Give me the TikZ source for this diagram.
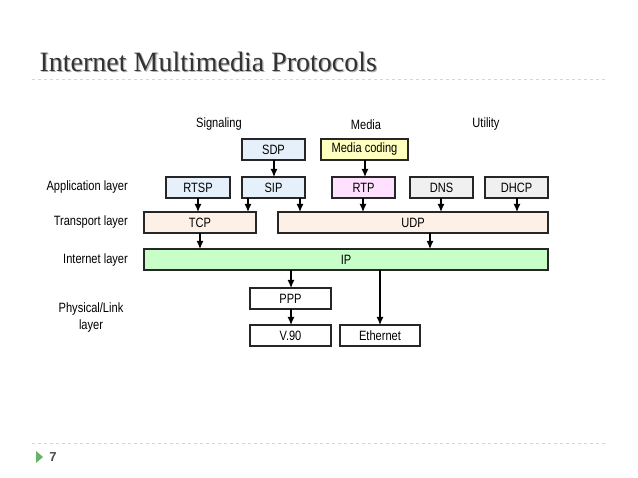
\documentclass[tikz,border=0pt]{standalone}
\usepackage{fontspec}
\setmainfont{Liberation Sans}
\newfontfamily\titlefont{Liberation Serif}
\usetikzlibrary{arrows.meta}
\definecolor{cblue}{HTML}{E6F0FA}
\definecolor{cyel}{HTML}{FFFFC0}
\definecolor{cpink}{HTML}{FFE0FF}
\definecolor{cgrey}{HTML}{F0F0F0}
\definecolor{cpeach}{HTML}{FDF0E6}
\definecolor{cgreen}{HTML}{C8FFC8}
\definecolor{cline}{HTML}{C8E0C8}
\begin{document}
\begin{tikzpicture}[x=1pt,y=-1pt,
  box/.style={draw=black!85,line width=1.3pt},
  lab/.style={inner sep=0pt,font=\fontsize{13.5}{15}\selectfont\addfontfeatures{FakeStretch=0.82}},
  arr/.style={-{Latex[length=8pt,width=7pt]},line width=1.3pt}]
\useasboundingbox (0,0) rectangle (638,478);
\fill[white] (0,0) rectangle (638,478);
\node[anchor=west,font=\titlefont\fontsize{28}{30}\selectfont,text=black!30] at (37.2,63.2) {Internet Multimedia Protocols};
\node[anchor=west,font=\titlefont\fontsize{28}{30}\selectfont,text=black!80] (title) at (36,62) {Internet Multimedia Protocols};
\draw[cline,dashed] (32,79) -- (605,79);
\draw[cline,dashed] (32,443) -- (605,443);
\fill[green!50!black!60] (36,451) -- (43,457) -- (36,463) -- cycle;
\node[font=\bfseries\fontsize{13}{14}\selectfont,text=black!70] (pg) at (53,457) {7};
% labels
\node[lab] (sig) at (219,124) {Signaling};
\node[lab] (med) at (366,125) {Media};
\node[lab] (uti) at (486,124) {Utility};
\node[lab,anchor=east] (al) at (128,187) {Application layer};
\node[lab,anchor=east] (tl) at (128,222) {Transport layer};
\node[lab,anchor=east] (il) at (128,260) {Internet layer};
\node[lab,align=center] (pl) at (91,318) {Physical/Link\\[2pt]layer};
% boxes
\draw[box,fill=cblue] (242,139) rectangle (305,160) node[midway,lab] (sdp) {SDP};
\draw[box,fill=cyel] (321,139) rectangle (408,160) node[midway,lab] (mc) {Media coding};
\draw[box,fill=cblue] (166,177) rectangle (230,198) node[midway,lab] (rtsp) {RTSP};
\draw[box,fill=cblue] (242,177) rectangle (305,198) node[midway,lab] (sip) {SIP};
\draw[box,fill=cpink] (332,177) rectangle (395,198) node[midway,lab] (rtp) {RTP};
\draw[box,fill=cgrey] (410,177) rectangle (473,198) node[midway,lab] (dns) {DNS};
\draw[box,fill=cgrey] (485,177) rectangle (548,198) node[midway,lab] (dhcp) {DHCP};
\draw[box,fill=cpeach] (144,212) rectangle (256,233) node[midway,lab] (tcp) {TCP};
\draw[box,fill=cpeach] (278,212) rectangle (548,233) node[midway,lab] (udp) {UDP};
\draw[box,fill=cgreen] (144,249) rectangle (548,270) node[midway,lab] (ip) {IP};
\draw[box,fill=white] (250,288) rectangle (331,309) node[midway,lab] (ppp) {PPP};
\draw[box,fill=white] (250,325) rectangle (331,346) node[midway,lab] (v90) {V.90};
\draw[box,fill=white] (340,325) rectangle (420,346) node[midway,lab] (eth) {Ethernet};
% arrows
\draw[arr] (274,160) -- (274,177);
\draw[arr] (365,160) -- (365,177);
\draw[arr] (198,198) -- (198,212);
\draw[arr] (248,198) -- (248,212);
\draw[arr] (300,198) -- (300,212);
\draw[arr] (363,198) -- (363,212);
\draw[arr] (441,198) -- (441,212);
\draw[arr] (517,198) -- (517,212);
\draw[arr] (200,233) -- (200,249);
\draw[arr] (430,233) -- (430,249);
\draw[arr] (291,270) -- (291,288);
\draw[arr] (291,309) -- (291,325);
\draw[arr] (380,270) -- (380,325);
\end{tikzpicture}
\end{document}
